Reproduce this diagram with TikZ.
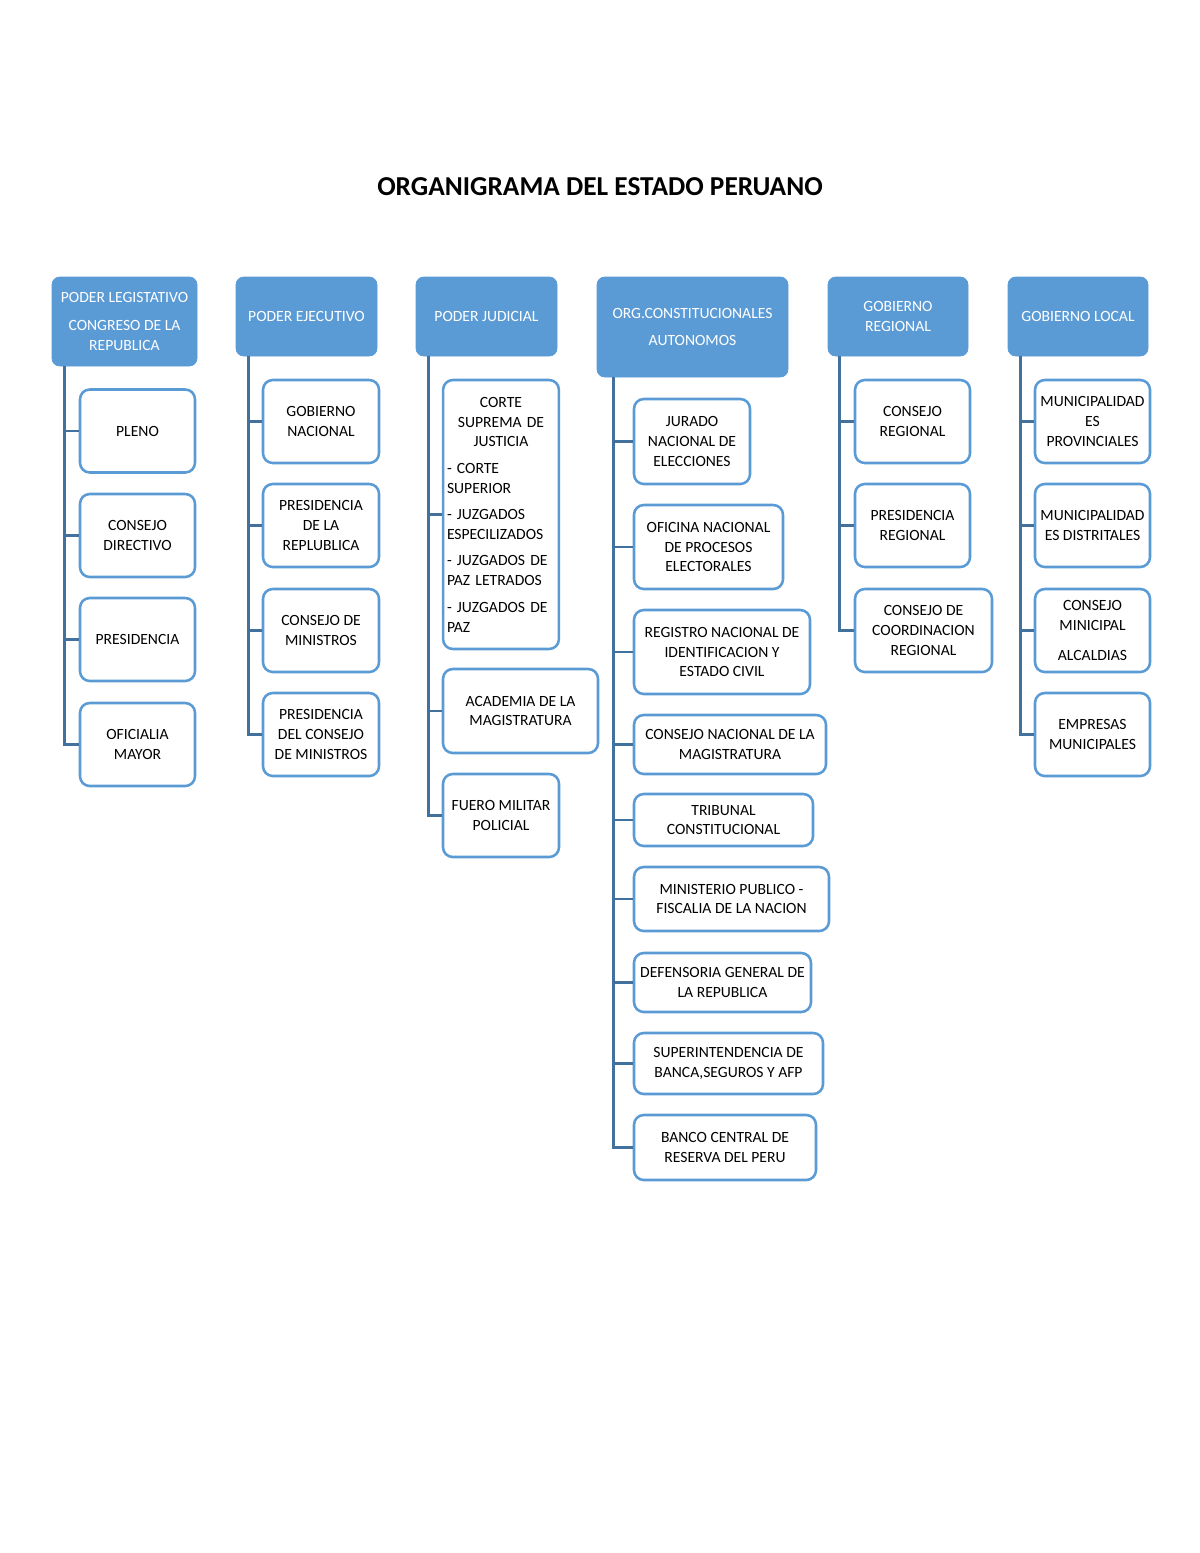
\documentclass[tikz,border=0pt]{standalone}
\usepackage{fontspec}
\setmainfont{Carlito}
\definecolor{azulcab}{RGB}{91,155,213}
\definecolor{azullin}{RGB}{65,113,156}
\newcommand{\px}{0.018cm}

\begin{document}
\begin{tikzpicture}[x=0.018cm, y=-0.018cm,
  cabecera/.style={draw=azulcab, fill=azulcab, rounded corners=4pt, text=white, align=center, font=\fontsize{8}{10.2}\selectfont, inner sep=2pt},
  organo/.style={draw=azulcab, line width=1.3pt, fill=white, rounded corners=5pt, align=center, font=\fontsize{8}{10.2}\selectfont, inner sep=2pt},
  rama/.style={draw=azullin, line width=1.4pt}]
      \useasboundingbox (0,0) rectangle (1200,1553);

      % Titulo
      \node[font=\fontsize{14}{16}\selectfont\bfseries] (titulo) at (600,187) {ORGANIGRAMA DEL ESTADO PERUANO};

      % Poder Legislativo
      \node[cabecera, minimum width=145*\px, minimum height=89*\px] (leg) at (124.5,321.5) {PODER LEGISTATIVO\\[4pt]CONGRESO DE LA\\REPUBLICA};
      \node[organo, minimum width=115*\px, minimum height=83*\px] (pleno) at (137.5,431) {PLENO};
      \node[organo, minimum width=115*\px, minimum height=83*\px] (cdir) at (137.5,535.5) {CONSEJO\\DIRECTIVO};
      \node[organo, minimum width=115*\px, minimum height=83*\px] (pres) at (137.5,639.5) {PRESIDENCIA};
      \node[organo, minimum width=115*\px, minimum height=83*\px] (ofic) at (137.5,744.5) {OFICIALIA\\MAYOR};

      % Poder Ejecutivo
      \node[cabecera, minimum width=141*\px, minimum height=79*\px] (ejec) at (306.5,316.5) {PODER EJECUTIVO};
      \node[organo, minimum width=116*\px, minimum height=83*\px] (gnac) at (321,421.5) {GOBIERNO\\NACIONAL};
      \node[organo, minimum width=116*\px, minimum height=83*\px] (prep) at (321,525.5) {PRESIDENCIA\\DE LA\\REPLUBLICA};
      \node[organo, minimum width=116*\px, minimum height=83*\px] (cmin) at (321,630.5) {CONSEJO DE\\MINISTROS};
      \node[organo, minimum width=116*\px, minimum height=83*\px] (pcm) at (321,734.5) {PRESIDENCIA\\DEL CONSEJO\\DE MINISTROS};

      % Poder Judicial
      \node[cabecera, minimum width=141*\px, minimum height=79*\px] (jud) at (486.5,316.5) {PODER JUDICIAL};
      \node[organo, text width=108*\px, minimum height=269*\px, align=left] (csj) at (501,514.5) {{\centering CORTE\\SUPREMA DE\\JUSTICIA\par}\vspace{3.3pt}- CORTE\\SUPERIOR\par\vspace{3.3pt}- JUZGADOS\\ESPECILIZADOS\par\vspace{3.3pt}- JUZGADOS DE\\PAZ LETRADOS\par\vspace{3.3pt}- JUZGADOS DE\\PAZ};
      \node[organo, minimum width=155*\px, minimum height=84*\px] (acad) at (520.5,711) {ACADEMIA DE LA\\MAGISTRATURA};
      \node[organo, minimum width=116*\px, minimum height=83*\px] (fuero) at (501,815.5) {FUERO MILITAR\\POLICIAL};

      % Organismos constitucionales autonomos
      \node[cabecera, minimum width=191*\px, minimum height=100*\px] (org) at (692.5,327) {ORG.CONSTITUCIONALES\\[4pt]AUTONOMOS};
      \node[organo, minimum width=116*\px, minimum height=85*\px] (jne) at (692,441.5) {JURADO\\NACIONAL DE\\ELECCIONES};
      \node[organo, minimum width=149*\px, minimum height=84*\px] (onpe) at (708.5,547) {OFICINA NACIONAL\\DE PROCESOS\\ELECTORALES};
      \node[organo, minimum width=176*\px, minimum height=84*\px] (reniec) at (722,652) {REGISTRO NACIONAL DE\\IDENTIFICACION Y\\ESTADO CIVIL};
      \node[organo, minimum width=192*\px, minimum height=59*\px] (cnm) at (730,744.5) {CONSEJO NACIONAL DE LA\\MAGISTRATURA};
      \node[organo, minimum width=179*\px, minimum height=52*\px] (tc) at (723.5,820) {TRIBUNAL\\CONSTITUCIONAL};
      \node[organo, minimum width=195*\px, minimum height=64*\px] (mp) at (731.5,899) {MINISTERIO PUBLICO -\\FISCALIA DE LA NACION};
      \node[organo, minimum width=177*\px, minimum height=59*\px] (defen) at (722.5,982.5) {DEFENSORIA GENERAL DE\\LA REPUBLICA};
      \node[organo, minimum width=189*\px, minimum height=61*\px] (sbs) at (728.5,1063.5) {SUPERINTENDENCIA DE\\BANCA,SEGUROS Y AFP};
      \node[organo, minimum width=182*\px, minimum height=65*\px] (bcr) at (725,1147.5) {BANCO CENTRAL DE\\RESERVA DEL PERU};

      % Gobierno Regional
      \node[cabecera, minimum width=140*\px, minimum height=79*\px] (greg) at (898,316.5) {GOBIERNO\\REGIONAL};
      \node[organo, minimum width=115*\px, minimum height=83*\px] (creg) at (912.5,421.5) {CONSEJO\\REGIONAL};
      \node[organo, minimum width=115*\px, minimum height=83*\px] (preg) at (912.5,525.5) {PRESIDENCIA\\REGIONAL};
      \node[organo, minimum width=137*\px, minimum height=83*\px] (ccr) at (923.5,630.5) {CONSEJO DE\\COORDINACION\\REGIONAL};

      % Gobierno Local
      \node[cabecera, minimum width=140*\px, minimum height=79*\px] (gloc) at (1078,316.5) {GOBIERNO LOCAL};
      \node[organo, minimum width=115*\px, minimum height=83*\px] (mprov) at (1092.5,421.5) {MUNICIPALIDAD\\ES\\PROVINCIALES};
      \node[organo, minimum width=115*\px, minimum height=83*\px] (mdist) at (1092.5,525.5) {MUNICIPALIDAD\\ES DISTRITALES};
      \node[organo, minimum width=115*\px, minimum height=83*\px] (cmun) at (1092.5,630.5) {CONSEJO\\MINICIPAL\\[5pt]ALCALDIAS};
      \node[organo, minimum width=115*\px, minimum height=83*\px] (emp) at (1092.5,734.5) {EMPRESAS\\MUNICIPALES};

      % Troncos
      \coordinate (t1) at ([xshift=13*\px]leg.south west);
      \coordinate (t2) at ([xshift=13*\px]ejec.south west);
      \coordinate (t3) at ([xshift=13*\px]jud.south west);
      \coordinate (t4) at ([xshift=17*\px]org.south west);
      \coordinate (t5) at ([xshift=12*\px]greg.south west);
      \coordinate (t6) at ([xshift=13*\px]gloc.south west);

      % Ramas
      \foreach \c in {pleno,cdir,pres,ofic} \draw[rama] (t1) |- (\c.west);
      \foreach \c in {gnac,prep,cmin,pcm} \draw[rama] (t2) |- (\c.west);
      \foreach \c in {csj,acad,fuero} \draw[rama] (t3) |- (\c.west);
      \foreach \c in {jne,onpe,reniec,cnm,tc,mp,defen,sbs,bcr} \draw[rama] (t4) |- (\c.west);
      \foreach \c in {creg,preg,ccr} \draw[rama] (t5) |- (\c.west);
      \foreach \c in {mprov,mdist,cmun,emp} \draw[rama] (t6) |- (\c.west);
    \end{tikzpicture}
\end{document}
